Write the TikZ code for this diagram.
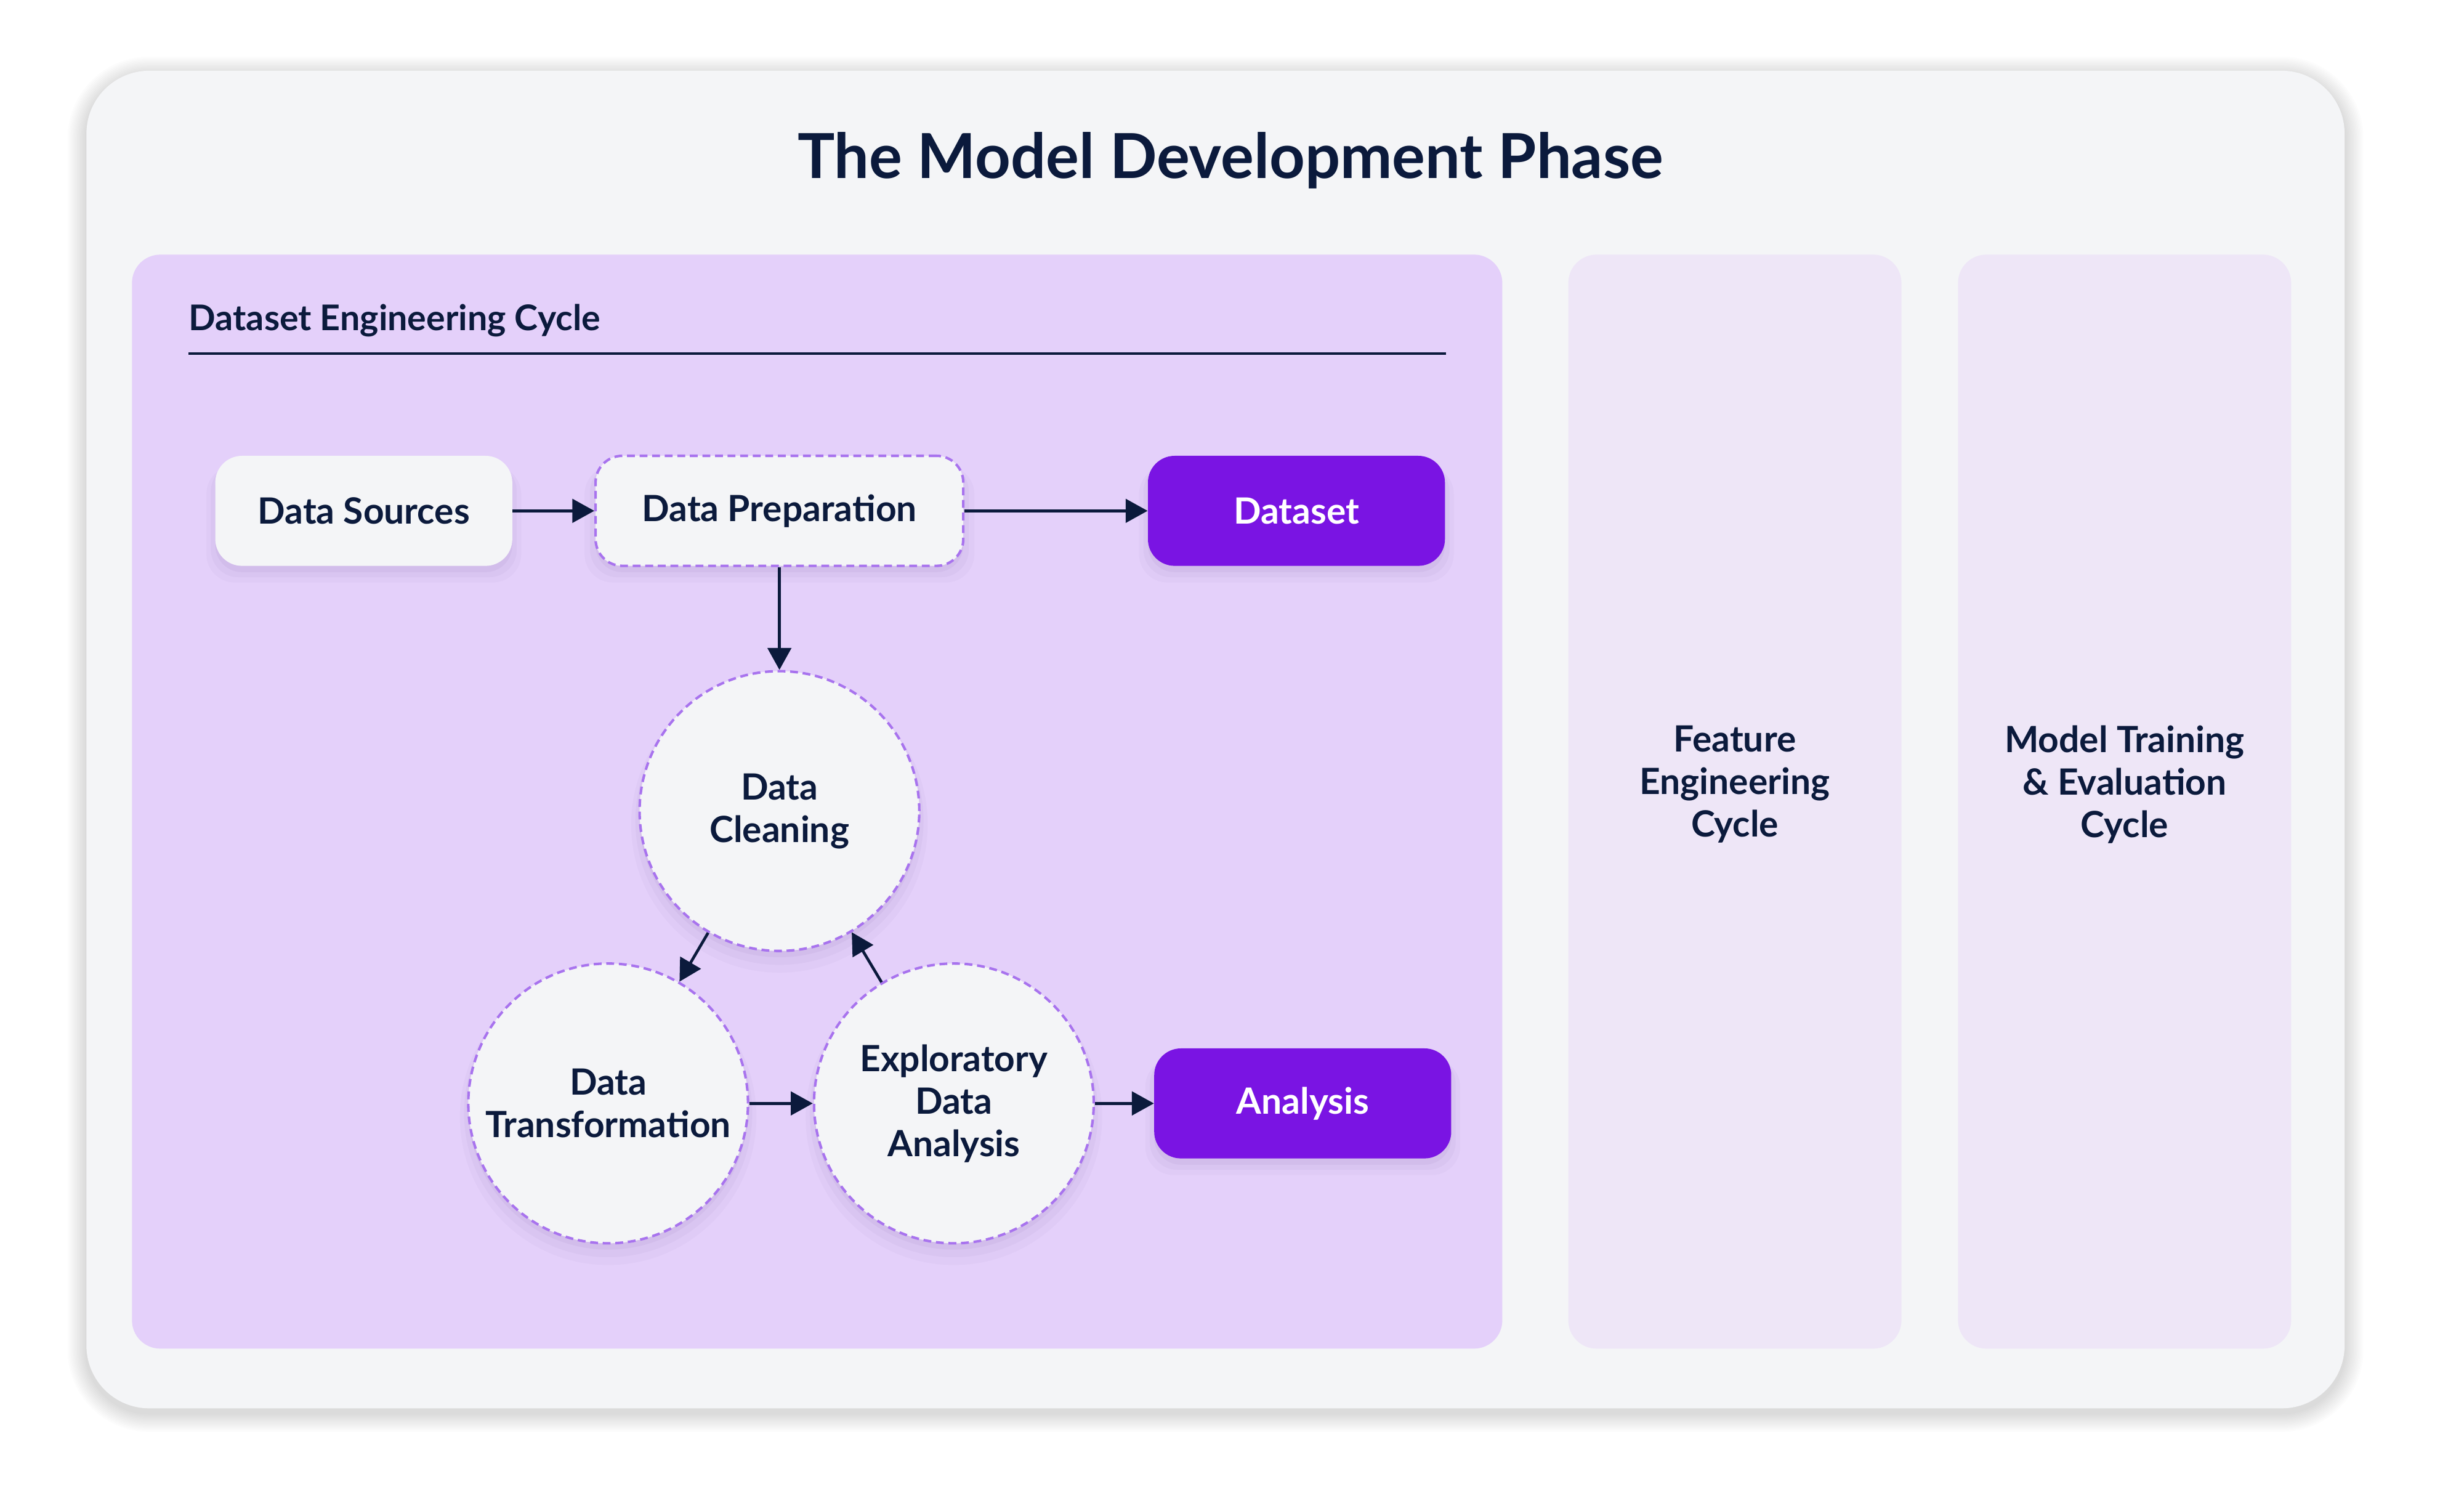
\documentclass[tikz,border=0pt]{standalone}
\usepackage{fontspec}
\setmainfont{Lato}
\usetikzlibrary{arrows.meta,shadows}
\definecolor{navy}{HTML}{0B1A3C}
\definecolor{card}{HTML}{F4F5F7}
\definecolor{lilac}{HTML}{E4D0FA}
\definecolor{pale}{HTML}{EEE6F7}
\definecolor{vivid}{HTML}{7A14E3}
\definecolor{dashc}{HTML}{A873EE}
\definecolor{shc}{HTML}{5A3A8A}
\tikzset{
  boxtext/.style={font=\fontsize{23}{27}\selectfont\bfseries, text=navy, align=center},
  softshadow/.style={
    general shadow={shadow scale=1.00, shadow yshift=-4pt, fill=shc, opacity=0.05},
    general shadow={shadow scale=1.03, shadow yshift=-6pt, fill=shc, opacity=0.04},
    general shadow={shadow scale=1.06, shadow yshift=-8pt, fill=shc, opacity=0.03}},
  lightbox/.style={boxtext, rectangle, rounded corners=17pt, fill=card, minimum width=189pt, minimum height=70pt, softshadow},
  dashbox/.style={lightbox, draw=dashc, line width=1.6pt, dash pattern=on 5pt off 3pt},
  solidbox/.style={boxtext, text=white, rectangle, rounded corners=17pt, fill=vivid, minimum width=189pt, minimum height=70pt, softshadow},
  circ/.style={boxtext, circle, fill=card, draw=dashc, line width=1.6pt, dash pattern=on 5pt off 3pt, minimum size=178pt, inner sep=0pt, softshadow},
  arr/.style={draw=navy, line width=1.8pt, -{Triangle[length=14pt,width=15pt]}},
}
\begin{document}
\begin{tikzpicture}[x=1pt,y=-1pt]
\useasboundingbox (0,0) rectangle (1568,951);
\fill[white] (0,0) rectangle (1568,951);
% outer card shadow
\foreach \e in {1,2,...,12}{
  \fill[black, opacity=0.012, rounded corners={40pt+\e pt}] ({55-\e},{48-\e}) rectangle ({1492+\e},{899+\e});
}
\path[fill=card, rounded corners=40pt] (55,45) rectangle (1492,896);
\node[font=\fontsize{39.5}{48}\selectfont\bfseries, text=navy] (title) at (783,102) {The Model Development Phase};
% panels
\path[fill=lilac, rounded corners=18pt] (84,162) rectangle (956,858);
\path[fill=pale, rounded corners=18pt] (998,162) rectangle (1210,858);
\path[fill=pale, rounded corners=18pt] (1246,162) rectangle (1458,858);
\node[boxtext] (fe) at (1104,499) {Feature\\Engineering\\Cycle};
\node[boxtext] (mt) at (1352,499) {Model Training\\\& Evaluation\\Cycle};
% section label
\node[font=\fontsize{22.5}{27}\selectfont\bfseries, text=navy, anchor=west, inner sep=0pt] (dec) at (120,204) {Dataset Engineering Cycle};
\draw[navy, line width=1.8pt] (120,225) -- (920,225);
% nodes
\node[lightbox] (src) at (231.5,325) {Data Sources};
\node[dashbox, minimum width=234pt] (prep) at (496,325) {Data Preparation};
\node[solidbox] (ds) at (825,325) {Dataset};
\node[circ] (clean) at (496,516) {Data\\Cleaning};
\node[circ] (trans) at (387,702) {Data\\Transformation};
\node[circ] (eda) at (607,702) {Exploratory\\Data\\Analysis};
\node[solidbox] (ana) at (829,702) {Analysis};
% connectors
\draw[arr] (src) -- (prep);
\draw[arr] (prep) -- (ds);
\draw[arr] (prep) -- (clean);
\draw[arr] (clean) -- (trans);
\draw[arr] (eda) -- (clean);
\draw[arr] (trans) -- (eda);
\draw[arr] (eda) -- (ana);
\end{tikzpicture}
\end{document}
